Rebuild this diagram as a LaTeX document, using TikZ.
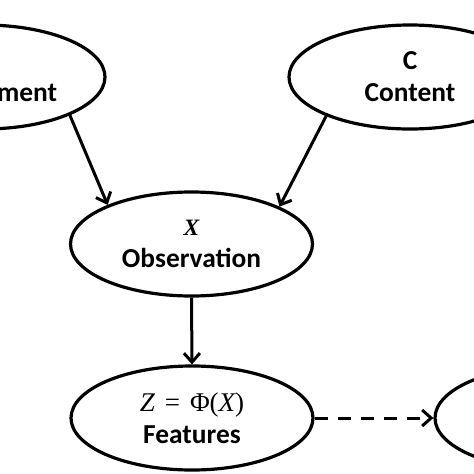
\documentclass[tikz,border=0pt]{standalone}
\usepackage{fontspec}
\setmainfont{Carlito}
\newfontfamily\mathlike{Liberation Serif}
\newcommand{\mv}[1]{{\mathlike\itshape #1}}
\usetikzlibrary{shapes.geometric,arrows.meta}
\begin{document}
\begin{tikzpicture}[x=1pt,y=-1pt,
  ell/.style={draw,ellipse,line width=3.2pt,minimum width=242pt,minimum height=104pt,inner sep=0pt,align=center,
    font=\fontsize{27.4}{32}\selectfont\bfseries},
  arr/.style={line width=3pt,-{Straight Barb[length=9pt,width=16pt]}}]
\useasboundingbox (0,0) rectangle (474,474);
\node[ell] (env) at (-16,77) {\phantom{E}\\Environment};
\node[ell] (con) at (410,77) {C\\Content};
\node[ell] (obs) at (191.5,244) {{\mathlike\bfseries\itshape\fontsize{23.5}{32}\selectfont X}\\Observation};
\node[ell] (fea) at (192,418) {{\mathlike\mdseries\fontsize{27}{32}\selectfont\mv{Z}\hspace{10pt}=\hspace{10pt}Φ(\mv{X})}\\Features};
\node[ell] (out) at (556,418) {};
\draw[arr] (env.-24) -- (obs.155);
\draw[arr] (con.205) -- (obs.23);
\draw[arr] (obs.south) -- (fea.north);
\draw[arr,dash pattern=on 13pt off 10pt] (fea.east) -- (out.west);
\end{tikzpicture}
\end{document}
